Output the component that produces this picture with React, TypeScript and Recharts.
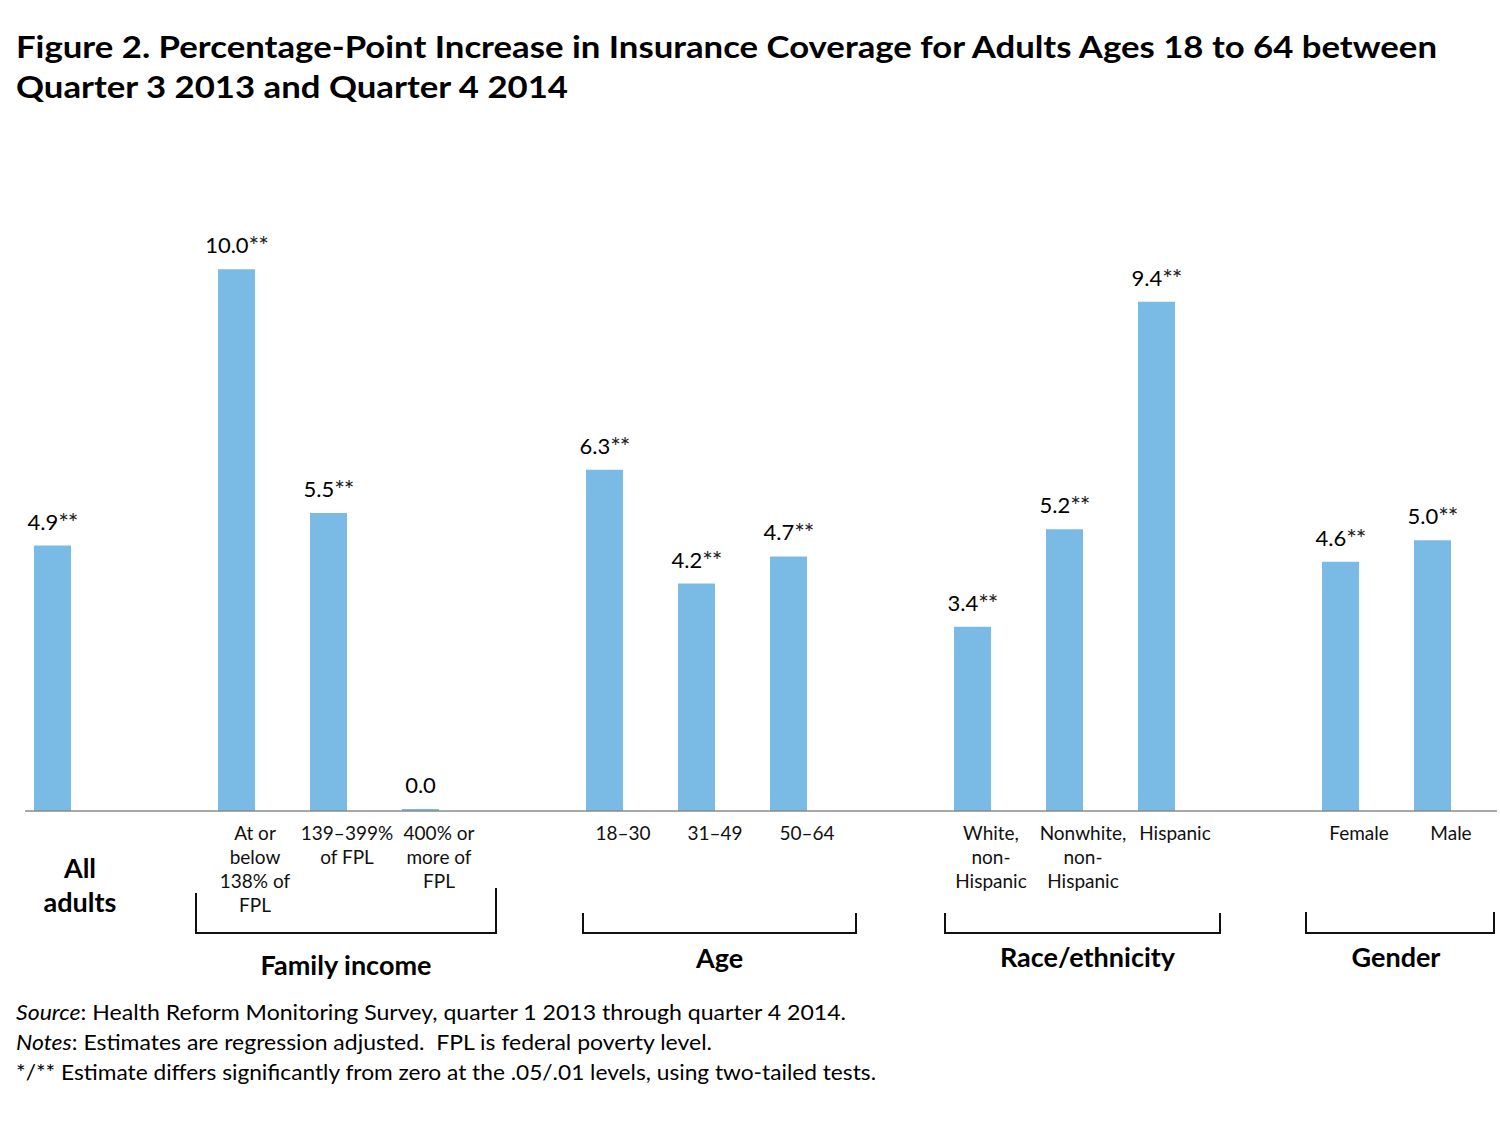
import { Bar, BarChart, LabelList, XAxis, YAxis } from "recharts";

const FONT = "Lato, 'Open Sans', sans-serif";
const BAR_COLOR = "#7ABBE6";

// one slot per category; the "gap" slots leave the space between groups
const categories = [
  "All adults",
  "gap-1",
  "At or below 138% of FPL",
  "139–399% of FPL",
  "400% or more of FPL",
  "gap-2",
  "18–30",
  "31–49",
  "50–64",
  "gap-3",
  "White, non-Hispanic",
  "Nonwhite, non-Hispanic",
  "Hispanic",
  "gap-4",
  "Female",
  "Male",
];

const increase = [4.9, null, 10.0, 5.5, 0.0, null, 6.3, 4.2, 4.7, null, 3.4, 5.2, 9.4, null, 4.6, 5.0];

const significance = ["**", "", "**", "**", "", "", "**", "**", "**", "", "**", "**", "**", "", "**", "**"];

const tickLines: string[][] = [
  [],
  [],
  ["At or", "below", "138% of", "FPL"],
  ["139–399%", "of FPL"],
  ["400% or", "more of", "FPL"],
  [],
  ["18–30"],
  ["31–49"],
  ["50–64"],
  [],
  ["White,", "non-", "Hispanic"],
  ["Nonwhite,", "non-", "Hispanic"],
  ["Hispanic"],
  [],
  ["Female"],
  ["Male"],
];

const groups = [
  { label: "Family income", first: 2, last: 4 },
  { label: "Age", first: 6, last: 8 },
  { label: "Race/ethnicity", first: 10, last: 12 },
  { label: "Gender", first: 14, last: 15 },
];

const data = categories.map((name, i) => ({
  name,
  increase: increase[i],
  spacer: null,
}));

const CHART_W = 1500;
const CHART_H = 1125;
const MARGIN = { top: 161, right: 3, left: 25, bottom: 0 };
const SLOT = (CHART_W - MARGIN.left - MARGIN.right) / categories.length;

// bracket tweaks, in px
const bracketLayout: Record<string, { dl: number; dr: number; topL: number; topR: number; labelY: number; labelDx: number }> = {
  "Family income": { dl: -13, dr: 11, topL: 893, topR: 888, labelY: 975, labelDx: 0 },
  Age: { dl: 6, dr: 3, topL: 913, topR: 913, labelY: 968, labelDx: 0 },
  "Race/ethnicity": { dl: 0, dr: -1, topL: 913, topR: 913, labelY: 967, labelDx: 5 },
  Gender: { dl: -7, dr: -3, topL: 912, topR: 912, labelY: 967, labelDx: -4 },
};

const CategoryTick = (props: any) => {
  const { x, y, index } = props;
  const lines = tickLines[index] || [];
  const group = groups.find((g) => g.first === index);
  let bracket = null;
  if (group) {
    const lay = bracketLayout[group.label];
    const left = x - SLOT / 2 + lay.dl;
    const right = x + (group.last - group.first) * SLOT + SLOT / 2 + lay.dr;
    const bottom = 933;
    bracket = (
      <g>
        <path
          d={`M${left},${lay.topL} L${left},${bottom} L${right},${bottom} L${right},${lay.topR}`}
          fill="none"
          stroke="#111"
          strokeWidth={2}
        />
        <text
          x={(left + right) / 2 + lay.labelDx}
          y={lay.labelY}
          textAnchor="middle"
          fontFamily={FONT}
          fontWeight={700}
          fontSize={27}
          fill="#000"
        >
          {group.label}
        </text>
      </g>
    );
  }
  return (
    <g>
      {lines.length > 0 && (
        <text x={x} y={y + 29} textAnchor="middle" fontFamily={FONT} fontSize={19} fill="#111">
          {lines.map((l, k) => (
            <tspan key={k} x={x} dy={k === 0 ? 0 : 24}>
              {l}
            </tspan>
          ))}
        </text>
      )}
      {index === 0 && (
        <text x={x + 9} y={878} textAnchor="middle" fontFamily={FONT} fontWeight={700} fontSize={27} fill="#000">
          {categories[0].split(" ").map((w, k) => (
            <tspan key={k} x={x + 9} dy={k === 0 ? 0 : 34}>
              {w}
            </tspan>
          ))}
        </text>
      )}
      {bracket}
    </g>
  );
};

// LabelList is keyed on the category name, so look the value up from it
const ValueLabel = (props: any) => {
  const { x, y, width, value } = props;
  const i = categories.indexOf(value);
  if (i < 0 || increase[i] === null) return null;
  const stars = significance[i];
  return (
    <text x={x + width / 2} y={y - 16} textAnchor="middle" fontFamily={FONT} fontSize={22} fill="#000">
      {Number(increase[i]).toFixed(1)}
      {stars && (
        <tspan fontSize={25} fill="#222" dy={2} letterSpacing={-1}>
          {stars}
        </tspan>
      )}
    </text>
  );
};

const App = () => {
  return (
    <div style={{ position: "absolute", left: 0, top: 0, width: CHART_W, height: CHART_H, background: "#fff" }}>
      <BarChart
        width={CHART_W}
        height={CHART_H}
        data={data}
        margin={MARGIN}
        barSize={37}
        barGap={0}
      >
        <XAxis
          dataKey="name"
          interval={0}
          tickLine={false}
          tickSize={0}
          tickMargin={0}
          height={314}
          axisLine={{ stroke: "#8a8a8a", strokeWidth: 1.5 }}
          tick={<CategoryTick />}
        />
        <YAxis hide domain={[0, 12]} />
        <Bar dataKey="increase" fill={BAR_COLOR} minPointSize={2} isAnimationActive={false}>
          <LabelList dataKey="name" content={<ValueLabel />} />
        </Bar>
        <Bar dataKey="spacer" fill={BAR_COLOR} isAnimationActive={false} />
      </BarChart>
      <svg
        width={CHART_W}
        height={CHART_H}
        style={{ position: "absolute", left: 0, top: 0, pointerEvents: "none" }}
      >
        <g fontFamily={FONT} fontWeight={700} fontSize={31} fill="#000">
          <text x={16} y={58} textLength={1421} lengthAdjust="spacingAndGlyphs">
            Figure 2. Percentage-Point Increase in Insurance Coverage for Adults Ages 18 to 64 between
          </text>
          <text x={16} y={98} textLength={552} lengthAdjust="spacingAndGlyphs">
            Quarter 3 2013 and Quarter 4 2014
          </text>
        </g>
        <g fontFamily={FONT} fontSize={21} fill="#000">
          <text x={16} y={1020} textLength={830} lengthAdjust="spacingAndGlyphs">
            <tspan fontStyle="italic">Source</tspan>: Health Reform Monitoring Survey, quarter 1 2013 through quarter 4 2014.
          </text>
          <text x={16} y={1050} textLength={696} lengthAdjust="spacingAndGlyphs">
            <tspan fontStyle="italic">Notes</tspan>: Estimates are regression adjusted.{"\u00a0 "}FPL is federal poverty level.
          </text>
          <text x={16} y={1080} textLength={860} lengthAdjust="spacingAndGlyphs">
            */** Estimate differs significantly from zero at the .05/.01 levels, using two-tailed tests.
          </text>
        </g>
      </svg>
    </div>
  );
};

export default App;
